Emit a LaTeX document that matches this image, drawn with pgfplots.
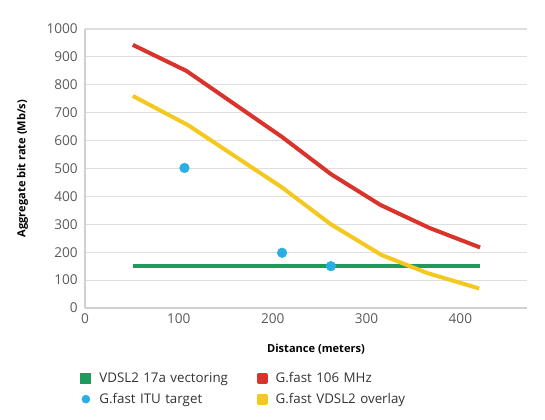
\documentclass[border=0pt]{standalone}
\usepackage{pgfplots}
\pgfplotsset{compat=1.18}
\usepackage{fontspec}
\setmainfont{Open Sans}
\definecolor{cgreen}{HTML}{1E9A5C}
\definecolor{cred}{HTML}{D9332B}
\definecolor{cyellow}{HTML}{F4C81E}
\definecolor{cblue}{HTML}{2BAEE4}
\definecolor{cgrid}{HTML}{DEDEDE}
\definecolor{caxis}{HTML}{D0D0D0}
\definecolor{ctick}{HTML}{5A5A5A}
\definecolor{ctext}{HTML}{333333}
\begin{document}
\begin{tikzpicture}
\path[use as bounding box] (0pt,0pt) rectangle (408.75pt,315pt);
\begin{axis}[
  at={(63.75pt,84pt)}, anchor=origin,
  scale only axis, width=331.5pt, height=209.25pt,
  xmin=0, xmax=471, ymin=0, ymax=1000,
  xtick={0,100,200,300,400}, ytick={0,100,...,1000},
  ymajorgrids, grid style={cgrid, line width=0.8pt},
  axis x line*=bottom, axis y line*=left,
  axis line style={caxis, line width=1.2pt, -},
  tick style={draw=none},
  ticklabel style={font=\fontsize{10.2}{12}\selectfont, text=ctick},
  /pgf/number format/assume math mode=true,
  /pgf/number format/set thousands separator={},
  xticklabel style={yshift=-1pt},
  yticklabel style={xshift=-2pt},
  xlabel={\bfseries Distance (meters)},
  ylabel={\bfseries Aggregate bit rate (Mb/s)},
  label style={font=\fontsize{8.3}{10}\selectfont, text=black},
  xlabel style={yshift=-8pt, xshift=7.5pt},
  ylabel style={yshift=7pt},
  legend columns=2,
  legend style={at={(-0.02,-0.21)}, anchor=north west, draw=none, fill=none,
    font=\fontsize{10}{12}\selectfont, text=ctext,
    nodes={text width=116pt, anchor=west}, row sep=2.5pt,
    /tikz/every odd column/.append style={column sep=4pt}},
  legend cell align=left,
]
\addplot[cgreen, line width=3pt,
  legend image code/.code={\fill[cgreen] (0pt,-2.6pt) rectangle (5.2pt,2.6pt);}]
  coordinates {(51,150) (421,150)};
\addlegendentry{VDSL2 17a vectoring}
\addplot[cred, line width=3pt, line join=round,
  legend image code/.code={\fill[cred] (0pt,-2.6pt) rectangle (5.2pt,2.6pt);}]
  coordinates {(51,943) (108,850) (210,613) (262,480) (315,369) (367,287) (421,217)};
\addlegendentry{G.fast 106 MHz}
\addplot[only marks, mark=*, mark size=3.6pt, cblue, mark options={draw=cblue, fill=cblue},
  legend image code/.code={\fill[cblue] (2.6pt,0pt) circle (3pt);}]
  coordinates {(106,502) (210,198) (262,150)};
\addlegendentry{G.fast ITU target}
\addplot[cyellow, line width=3pt, line join=round,
  legend image code/.code={\fill[cyellow] (0pt,-2.6pt) rectangle (5.2pt,2.6pt);}]
  coordinates {(51,760) (110,655) (210,432) (262,300) (316,190) (365,125) (420,70)};
\addlegendentry{G.fast VDSL2 overlay}
\end{axis}
\end{tikzpicture}
\end{document}
